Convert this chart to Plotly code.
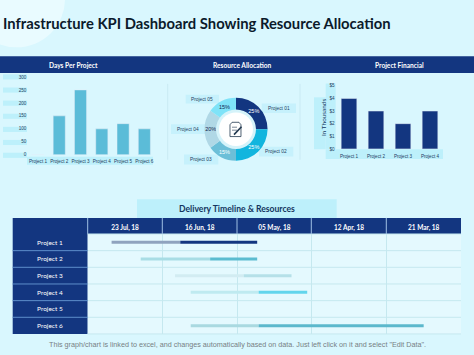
import plotly.graph_objects as go

W, H = 474, 355
days_cats = ["Project 1", "Project 2", "Project 3", "Project 4", "Project 5", "Project 6"]
days_vals = [0, 150, 250, 100, 120, 100]
alloc_cats = ["Project 01", "Project 02", "Project 03", "Project 04", "Project 05"]
alloc_vals = [25, 25, 15, 20, 15]
alloc_text = ["25%", "25%", "15%", "20%", "15%"]
alloc_colors = ["#133680", "#12B5DE", "#6CBFD8", "#B0D8E6", "#7FE3F8"]
alloc_text_colors = ["#FFFFFF", "#FFFFFF", "#FFFFFF", "#12284F", "#12284F"]
fin_cats = ["Project 1", "Project 2", "Project 3", "Project 4"]
fin_vals = [4, 3, 2, 3]
date_labels = ["23 Jul, 18", "16 Jun, 18", "05 May, 18", "12 Apr, 18", "21 Mar, 18"]
gantt_rows = ["Project 1", "Project 2", "Project 3", "Project 4", "Project 5", "Project 6"]
gantt_start = [0.32, 0.71, 1.17, 1.38, None, 1.38]
gantt_mid = [1.24, 1.64, 2.09, 2.29, None, 2.29]
gantt_end = [2.27, 2.27, 2.73, 2.94, None, 4.50]
gantt_c1 = ["#8FA3BE", "#A8DDE5", "#D2ECF2", "#BFEAF0", "#FFFFFF", "#A9D9E0"]
gantt_c2 = ["#133680", "#5BBCD0", "#B5E0E8", "#62D5EC", "#FFFFFF", "#5CB8CC"]

BG = "#D9F7FE"
BAND = "#BDF0FB"
NAVY = "#133680"
FONT = "Liberation Sans"


def px(x):
    return x / W


def py(y):
    return 1 - y / H


shapes = []
annotations = []


def rect(x0, y0, x1, y1, color, line=None):
    shapes.append(dict(type="rect", xref="paper", yref="paper", x0=px(x0), x1=px(x1),
                       y0=py(y1), y1=py(y0), fillcolor=color,
                       line=dict(width=1 if line else 0, color=line or color), layer="below"))


def hline(x0, x1, y, color):
    shapes.append(dict(type="line", xref="paper", yref="paper", x0=px(x0), x1=px(x1),
                       y0=py(y), y1=py(y), line=dict(color=color, width=1), layer="below"))


def vline(x, y0, y1, color, layer="below"):
    shapes.append(dict(type="line", xref="paper", yref="paper", x0=px(x), x1=px(x),
                       y0=py(y0), y1=py(y1), line=dict(color=color, width=1), layer=layer))


def label(x, y, text, size, color, family=FONT):
    annotations.append(dict(xref="paper", yref="paper", x=px(x), y=py(y), text=text, showarrow=False,
                            xanchor="center", yanchor="middle",
                            font=dict(size=size, color=color, family=family)))


# corner circle
shapes.append(dict(type="circle", xref="paper", yref="paper", x0=px(-32), x1=px(65), y0=py(46), y1=py(-52),
                   fillcolor="#E9FBFF", line=dict(width=0), layer="below"))

# title + header band
annotations.append(dict(xref="paper", yref="paper", x=px(1), y=py(21), text="<b>Infrastructure KPI Dashboard Showing Resource Allocation</b>",
                        showarrow=False, xanchor="left", yanchor="middle",
                        font=dict(size=14.8, color="#0B1A2B", family="Lato")))
rect(0, 55, 474, 72, NAVY)
for x, t in zip([73, 242, 399], ["Days Per Project", "Resource Allocation", "Project Financial"]):
    label(x, 64, "<b>%s</b>" % t, 6.6, "#FFFFFF", "Lato")

# chart 1 bands
for yy in [76, 89.3, 102.6, 115.9, 129.2, 142.5, 155.5]:
    rect(3, yy - 2.6, 27, yy + 2.6, BAND)
rect(27, 157, 153, 165, BAND)
vline(167.7, 83, 160, "#C9EAF3")
vline(300, 83, 160, "#C9EAF3")

# chart 3 bands
rect(325.7, 82.7, 335.7, 149, BAND)
rect(314, 96.7, 325.7, 149.3, BAND)
rect(325.7, 149.3, 443, 159.3, BAND)

# donut label chips
chips = [(261.7, 103, 296, 112.7), (259, 146.7, 293.3, 156.7), (184, 154.7, 218.3, 164.7),
         (171, 124, 205, 134), (185.7, 94, 219, 103)]
for c, name in zip(chips, alloc_cats):
    rect(c[0], c[1], c[2], c[3], "#C6F1FC")
    label((c[0] + c[2]) / 2, (c[1] + c[3]) / 2, name, 4.8, "#23405F")

# gantt surroundings
rect(137, 200, 336.7, 219, BAND)
label(237, 210, "<b>Delivery Timeline &amp; Resources</b>", 8.6, "#14355E", "Lato")
rect(12.7, 219, 461, 235.3, NAVY)
rect(12.7, 235.3, 87.7, 336.7, NAVY)
rect(87.7, 235.3, 461, 336.7, "#E4F9FE")
for i in range(0, 7):
    yy = 235.3 + i * 16.9
    hline(87.7, 461, yy, "#C5E8EF")
    if 0 < i < 6:
        hline(12.7, 87.7, yy, "#5E8FCB")
for x in [87.7, 162.3, 237, 311.3, 386.3]:
    vline(x, 219, 235.3, "#9FC0E4", "above")

label(237, 347, "This graph/chart is linked to excel, and changes automatically based on data. Just left click on it and select \"Edit Data\".",
      7.2, "#777F84")

# centre + icon of donut
shapes.append(dict(type="circle", xref="paper", yref="paper", x0=px(236 - 20), x1=px(236 + 20), y0=py(129 + 20), y1=py(129 - 20),
                   fillcolor="#D5F3FA", line=dict(width=0), layer="above"))
shapes.append(dict(type="circle", xref="paper", yref="paper", x0=px(236 - 17), x1=px(236 + 17), y0=py(129 + 17), y1=py(129 - 17),
                   fillcolor="#FFFFFF", line=dict(width=0), layer="above"))
doc = [(232, 122), (239, 122), (241, 124.5), (241, 136.5), (230, 136.5), (230, 124.5), (232, 122)]
shapes.append(dict(type="path", xref="paper", yref="paper", layer="above",
                   path="M " + " L ".join("%.4f,%.4f" % (px(a), py(b)) for a, b in doc) + " Z",
                   fillcolor="#FFFFFF", line=dict(color="#22384F", width=0.8)))
shapes.append(dict(type="line", xref="paper", yref="paper", x0=px(234), x1=px(241.5), y0=py(134.5), y1=py(126.5), layer="above",
                   line=dict(color="#22384F", width=1.6)))
for yy in [127, 130]:
    shapes.append(dict(type="line", xref="paper", yref="paper", x0=px(232), x1=px(237), y0=py(yy), y1=py(yy), layer="above",
                       line=dict(color="#22384F", width=0.6)))

fig = go.Figure()
fig.add_trace(go.Bar(x=days_cats, y=days_vals, marker_color="#5BBCD8", width=0.57, xaxis="x", yaxis="y", showlegend=False))
fig.add_trace(go.Bar(x=fin_cats, y=fin_vals, marker_color=NAVY, width=0.58, xaxis="x2", yaxis="y2", showlegend=False))
fig.add_trace(go.Pie(labels=alloc_cats, values=alloc_vals, text=alloc_text, textinfo="text", hole=0.6, sort=False,
                     direction="clockwise", rotation=0, marker=dict(colors=alloc_colors, line=dict(width=0)),
                     textposition="inside", insidetextorientation="horizontal",
                     insidetextfont=dict(size=5.5, color=alloc_text_colors, family=FONT),
                     domain=dict(x=[px(204), px(268)], y=[py(161), py(97)]), showlegend=False))
for i, row in enumerate(gantt_rows):
    if gantt_start[i] is None:
        fig.add_trace(go.Bar(y=[row], x=[None], orientation="h", xaxis="x3", yaxis="y3", showlegend=False))
        continue
    fig.add_trace(go.Bar(y=[row], x=[gantt_mid[i] - gantt_start[i]], base=[gantt_start[i]], orientation="h", width=0.18,
                         marker=dict(color=gantt_c1[i], line=dict(width=0)), xaxis="x3", yaxis="y3", showlegend=False))
    fig.add_trace(go.Bar(y=[row], x=[gantt_end[i] - gantt_mid[i]], base=[gantt_mid[i]], orientation="h", width=0.18,
                         marker=dict(color=gantt_c2[i], line=dict(width=0)), xaxis="x3", yaxis="y3", showlegend=False))

tick = dict(size=4.6, color="#23405F", family=FONT)
fig.update_layout(
    width=W, height=H, margin=dict(l=0, r=0, t=0, b=0), paper_bgcolor=BG, plot_bgcolor="rgba(0,0,0,0)",
    barmode="overlay", shapes=shapes, annotations=annotations,
    xaxis=dict(domain=[px(27.3), px(155)], range=[-0.5, 5.5], tickfont=tick, showgrid=False, showline=False,
               ticks="", anchor="y", fixedrange=True, ticklabelstandoff=3),
    yaxis=dict(domain=[py(155), py(76)], range=[0, 300], dtick=50, tickfont=tick, showgrid=False, zeroline=False,
               ticks="", anchor="x"),
    xaxis2=dict(domain=[px(335.5), px(443.5)], range=[-0.5, 3.5], tickfont=tick, showgrid=False, ticks="", anchor="y2",
                ticklabelstandoff=3),
    yaxis2=dict(domain=[py(149), py(85)], range=[0, 5], tickvals=[0, 1, 2, 3, 4, 5],
                ticktext=["$0", "$1", "$2", "$3", "$4", "$5"], tickfont=tick, showgrid=False, zeroline=False,
                ticks="", anchor="x2",
                title=dict(text="In Thousands", font=dict(size=6.4, color="#14355E", family="Lato"), standoff=2)),
    xaxis3=dict(domain=[px(87.7), px(461)], range=[0, 5], side="top", tickvals=[0.5, 1.5, 2.5, 3.5, 4.5], ticktext=["<b>%s</b>" % d for d in date_labels],
                tickfont=dict(size=6.5, color="#FFFFFF", family="Lato"), showgrid=False, zeroline=False, ticks="", anchor="y3",
                ticklabelstandoff=2,
                minor=dict(tickvals=[1, 2, 3, 4], showgrid=True, gridcolor="#C5E8EF", gridwidth=1, ticks="")),
    yaxis3=dict(domain=[py(336.7), py(235.3)], type="category", categoryorder="array", categoryarray=gantt_rows,
                autorange="reversed", tickfont=dict(size=6.5, color="#FFFFFF", family="Lato"), showgrid=False, ticks="",
                anchor="x3", ticklabelstandoff=24),
)
fig.write_html("out.html", config=dict(displayModeBar=False), post_script="document.body.style.margin='0';")
